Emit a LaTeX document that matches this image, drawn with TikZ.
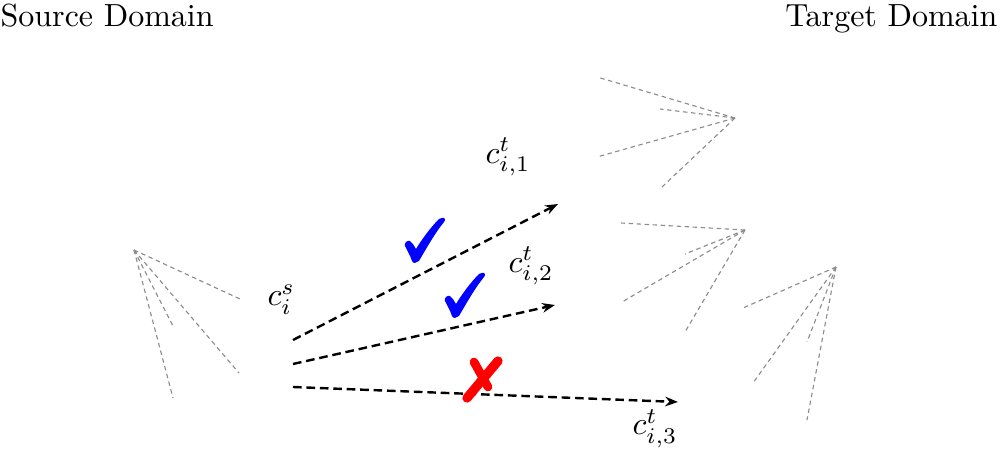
\documentclass[tikz,border=0pt]{standalone}
\usetikzlibrary{arrows.meta}
\begin{document}
\begin{tikzpicture}[x=0.3125pt,y=-0.3125pt,
  fanline/.style={draw=gray!90,line width=0.35pt,dash pattern=on 1.4pt off 1.1pt},
  maparrow/.style={draw=black,line width=0.75pt,dash pattern=on 2.7pt off 1.5pt,-{Stealth[length=4pt,width=3pt]}},
  lbl/.style={inner sep=0pt,anchor=base west},
  okmark/.pic={\fill[blue] (38,1) .. controls (41,0) and (42,3) .. (40,5)
      .. controls (31,16) and (22,32) .. (15,44)
      .. controls (13,46) and (9,47) .. (8,44)
      .. controls (6,38) and (3,33) .. (1,29)
      .. controls (0,26) and (3,23) .. (6,24)
      .. controls (9,26) and (10,29) .. (12,32)
      .. controls (18,22) and (27,10) .. (35,2)
      .. controls (36,1) and (37,1) .. (38,1) -- cycle;},
  nomark/.pic={\draw[red,line width=2.9pt,line cap=round] (43,3) -- (12,40);
      \draw[red,line width=2.7pt,line cap=round] (19,4) -- (33,29);}]
\useasboundingbox (0,0) rectangle (1002,450);
% titles
\node[inner sep=0pt,anchor=base west] (src) at (0,27) {Source Domain};
\node[inner sep=0pt,anchor=base east] (tgt) at (998,26) {Target Domain};
% source fan
\coordinate (s0) at (134,250);
\coordinate (s1) at (240,299);
\coordinate (s2) at (173,326);
\coordinate (s3) at (239,373);
\coordinate (s4) at (173,398);
\foreach \e in {s1,s2,s3,s4} \draw[fanline] (s0) -- (\e);
% target fan 1
\coordinate (a0) at (735,118);
\coordinate (a1) at (597,77);
\coordinate (a2) at (660,109);
\coordinate (a3) at (597,157);
\coordinate (a4) at (662,187);
\foreach \e in {a1,a2,a3,a4} \draw[fanline] (a0) -- (\e);
% target fan 2
\coordinate (b0) at (745,230);
\coordinate (b1) at (621,223);
\coordinate (b2) at (685,254);
\coordinate (b3) at (622,302);
\coordinate (b4) at (685,332);
\foreach \e in {b1,b2,b3,b4} \draw[fanline] (b0) -- (\e);
% target fan 3
\coordinate (d0) at (836,267);
\coordinate (d1) at (743,308);
\coordinate (d2) at (807,342);
\coordinate (d3) at (753,383);
\coordinate (d4) at (807,420);
\foreach \e in {d1,d2,d3,d4} \draw[fanline] (d0) -- (\e);
% arrows
\coordinate (p1) at (293,340);
\coordinate (q1) at (558,204);
\coordinate (p2) at (293,364);
\coordinate (q2) at (555,305);
\coordinate (p3) at (293,387);
\coordinate (q3) at (678,402);
\draw[maparrow] (p1) -- (q1);
\draw[maparrow] (p2) -- (q2);
\draw[maparrow] (p3) -- (q3);
% labels
\node[lbl] (cs) at (267,306) {$c_i^s$};
\node[lbl] (ct1) at (485,163) {$c_{i,1}^t$};
\node[lbl] (ct2) at (508,272) {$c_{i,2}^t$};
\node[lbl] (ct3) at (632,435) {$c_{i,3}^t$};
% marks
\pic (ok1) at (404,217) {okmark};
\pic (ok2) at (444,272) {okmark};
\pic (no3) at (455,358) {nomark};
\end{tikzpicture}
\end{document}
